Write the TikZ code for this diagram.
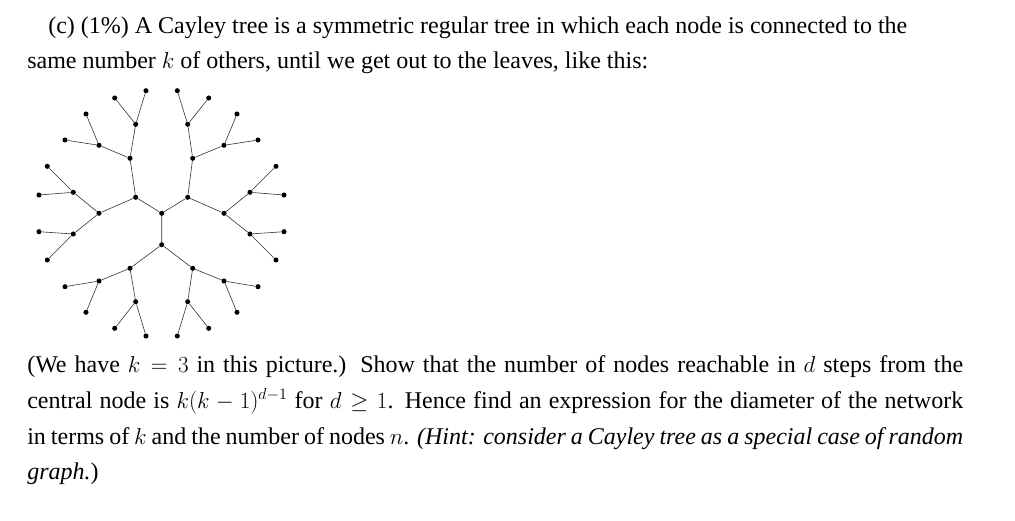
\documentclass[tikz,border=0pt]{standalone}
\usepackage{fontspec}
\setmainfont{Liberation Serif}
\begin{document}
\begin{tikzpicture}[x=0.75pt,y=-0.75pt,
  dot/.style={circle,fill=black,inner sep=0pt,minimum size=3.8pt},
  edge/.style={line width=0.45pt,draw=black!80},
  txt/.style={anchor=base west,inner sep=0pt,font=\fontsize{18pt}{22pt}\selectfont}]
\useasboundingbox (0,0) rectangle (1015,521);
\node[txt] (t1) at (48,33) {(c) (1\%) A Cayley tree is a symmetric regular tree in which each node is connected to the};
\node[txt] (t2) at (27,68) {same number $k$ of others, until we get out to the leaves, like this:};
\node[txt] (t3) at (27,372) {\makebox[702pt][s]{(We have $k=3$ in this picture.) Show that the number of nodes reachable in $d$ steps from the}};
\node[txt] (t4) at (27,408) {\makebox[702pt][s]{central node is $k(k-1)^{d-1}$ for $d\geq 1$. Hence find an expression for the diameter of the network}};
\node[txt] (t5) at (27,444) {\makebox[702pt][s]{in terms of $k$ and the number of nodes $n$. \textit{(Hint: consider a Cayley tree as a special case of random}}};
\node[txt] (t6) at (27,479) {\textit{graph.})};
% tree
\node[dot] (c) at (161.7,213.3) {};
\node[dot] (a) at (135.7,197.3) {};
\node[dot] (b) at (187.7,197.3) {};
\node[dot] (d) at (161.7,244.7) {};
\node[dot] (a1) at (130,158.3) {};
\node[dot] (a2) at (99,213.3) {};
\node[dot] (b1) at (192.7,158.3) {};
\node[dot] (b2) at (224,213.3) {};
\node[dot] (d1) at (130,268.3) {};
\node[dot] (d2) at (192.7,268.3) {};
\node[dot] (a11) at (135.7,124.3) {};
\node[dot] (a12) at (99,145.3) {};
\node[dot] (a21) at (73.3,192.3) {};
\node[dot] (a22) at (73.3,234) {};
\node[dot] (b11) at (187.7,124.3) {};
\node[dot] (b12) at (224,145.3) {};
\node[dot] (b21) at (250,192.3) {};
\node[dot] (b22) at (250,234) {};
\node[dot] (d11) at (99,281) {};
\node[dot] (d12) at (135.7,301.7) {};
\node[dot] (d21) at (187.7,301.7) {};
\node[dot] (d22) at (224,281) {};
\foreach \n/\p/\q/\r/\s in {
 a11/114.7/98/146/90.7, a12/86/114/65/140, a21/47.3/166.3/39/195, a22/39/231.7/47.3/260,
 b11/177.3/90.7/208.7/98, b12/237/114/258/140, b21/276/166.3/284/195, b22/284/231.7/276/260,
 d11/65/286.7/86/312.3, d12/114.7/328.3/146/336, d21/177.3/336/208.7/328.3, d22/237/312.3/258/286.7}{
  \node[dot] (\n x) at (\p,\q) {};
  \node[dot] (\n y) at (\r,\s) {};
  \draw[edge] (\n) -- (\n x);
  \draw[edge] (\n) -- (\n y);
}
\draw[edge] (c)--(a) (c)--(b) (c)--(d) (a)--(a1) (a)--(a2) (b)--(b1) (b)--(b2) (d)--(d1) (d)--(d2)
 (a1)--(a11) (a1)--(a12) (a2)--(a21) (a2)--(a22) (b1)--(b11) (b1)--(b12) (b2)--(b21) (b2)--(b22)
 (d1)--(d11) (d1)--(d12) (d2)--(d21) (d2)--(d22);
\end{tikzpicture}
\end{document}
